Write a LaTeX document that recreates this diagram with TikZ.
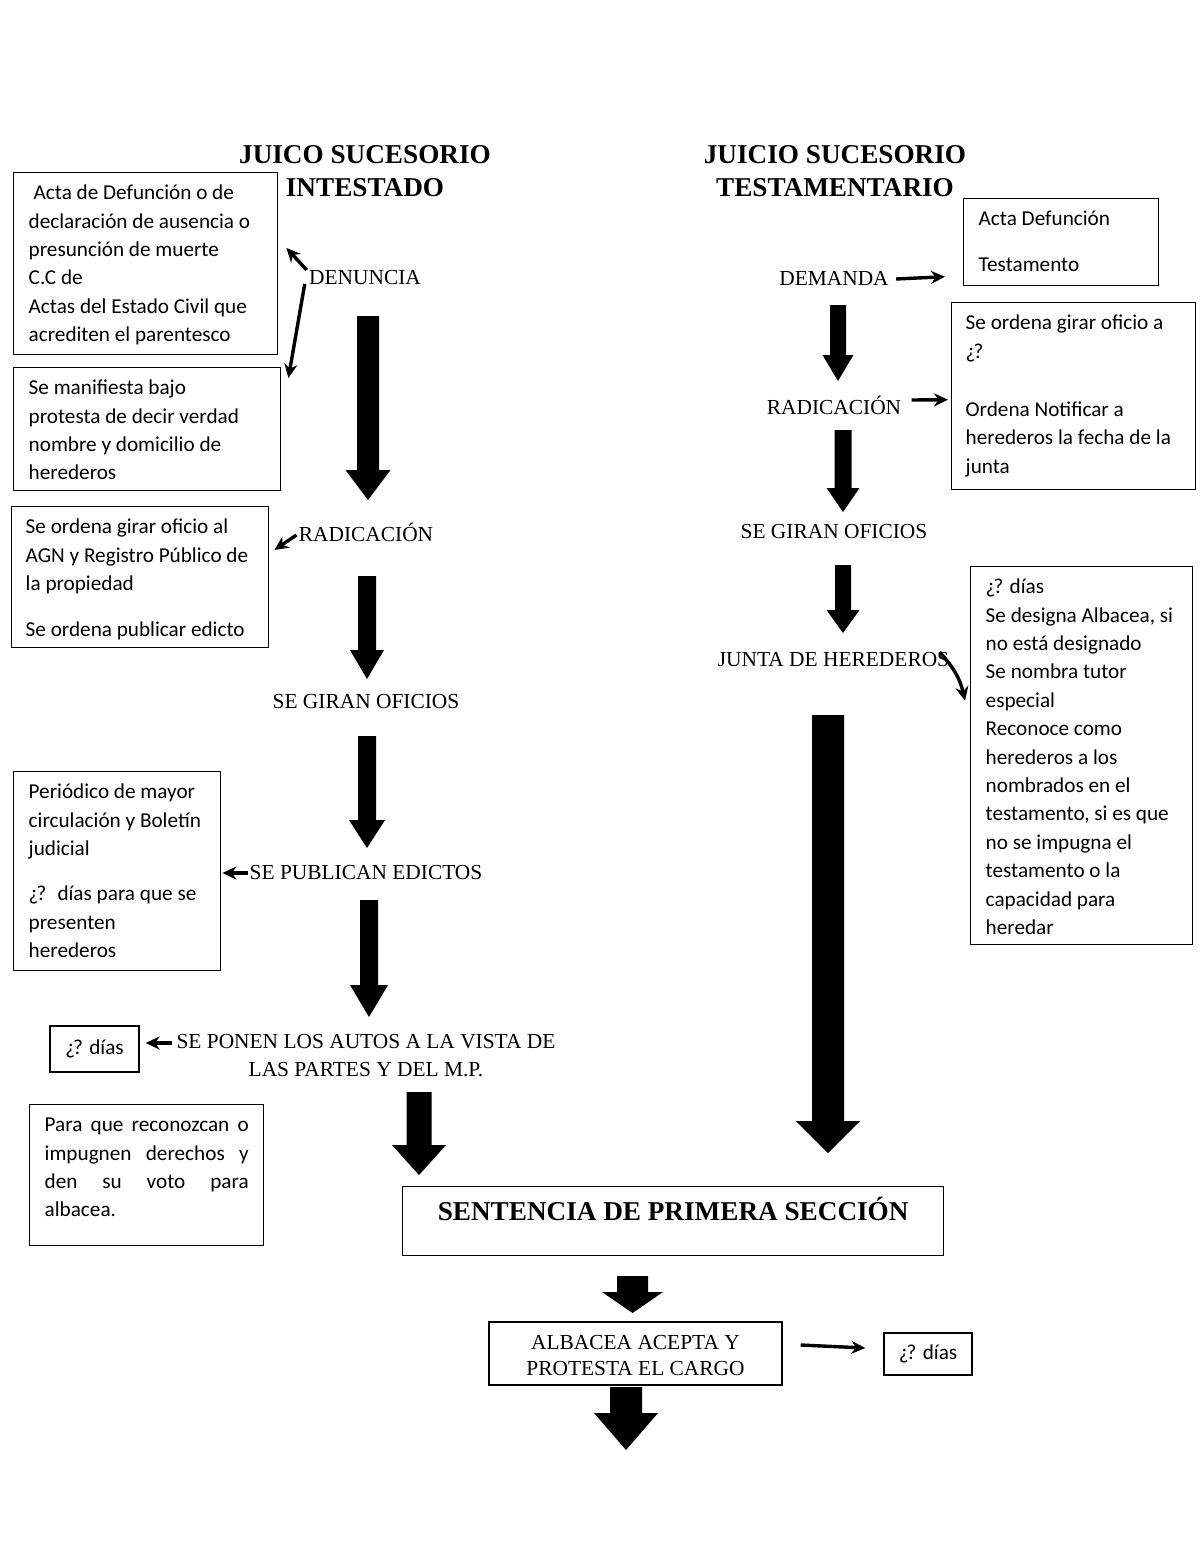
\documentclass[tikz,border=0pt]{standalone}
\usepackage{fontspec}
\setmainfont{Liberation Serif}
\newfontfamily\calfont{Carlito}
\usetikzlibrary{arrows.meta,calc}
\newcommand\lblfont{\fontsize{10.7}{14}\selectfont}
\newcommand\ttlfont{\fontsize{13.6}{16.5}\selectfont\bfseries}
\newcommand\bxfont{\calfont\fontsize{10.6}{14.2}\selectfont}
\newcommand\fs{\rule{0pt}{13.5pt}}
\newcommand\qq{¿\kern-1pt?}
\newcommand\DnArrow[6]{\fill (#1-#5,#2) -- (#1+#5,#2) -- (#1+#5,#3) -- (#1+#6,#3) -- (#1,#4) -- (#1-#6,#3) -- (#1-#5,#3) -- cycle;}
\tikzset{
  box/.style={draw, line width=0.7pt, anchor=north west, inner xsep=7.5pt, inner ysep=0pt, font=\bxfont},
  lbl/.style={inner sep=0pt, font=\lblfont},
  ttl/.style={inner sep=0pt, align=center, font=\ttlfont},
  thinarr/.style={line width=1.7pt, -{Stealth[length=7pt,width=6.5pt]}},
  smallbox/.style={draw, line width=0.7pt, inner sep=0pt, font=\bxfont}
}
\begin{document}
\begin{tikzpicture}[x=0.5pt,y=-0.5pt]
\fill[white] (0,0) rectangle (1200,1553);
\useasboundingbox (0,0) rectangle (1200,1553);

% titles
\node[ttl] (t1) at (365,171) {JUICO SUCESORIO\\INTESTADO};
\node[ttl] (t2) at (835,171) {JUICIO SUCESORIO\\TESTAMENTARIO};

% ---------- left column ----------
\node[box] (b1) at (13,172) {\parbox[t][91pt][t]{117pt}{\raggedright\fs\hspace{2.5pt}Acta de Defunción o de\\declaración de ausencia o\\presunción de muerte\\C.C de\\Actas del Estado Civil que\\acrediten el parentesco}};
\node[box] (b2) at (13,367) {\parbox[t][61.5pt][t]{118.5pt}{\raggedright\fs Se manifiesta bajo\\protesta de decir verdad\\nombre y domicilio de\\herederos}};
\node[lbl] (den) at (365,278) {DENUNCIA};
\draw[thinarr] ([shift={(-2,-8)}]den.west) -- ([shift={(8,76)}]b1.north east);
\draw[thinarr] ([shift={(-4,6)}]den.west) -- ([shift={(7,11)}]b2.north east);
\DnArrow{368}{316}{470}{500}{11}{22.5}

\node[lbl] (rad1) at (366,532) {RADICACIÓN};
\node[box, inner xsep=7pt] (b3) at (11,506) {\parbox[t][70.5pt][t]{114.5pt}{\raggedright\fs Se ordena girar oficio al\\AGN y Registro Público de\\la propiedad\\[9pt]Se ordena publicar edicto}};
\draw[thinarr] ([shift={(-2,3)}]rad1.west) -- ([shift={(5,44)}]b3.north east);
\DnArrow{367}{576}{650}{679}{9}{17}

\node[lbl] (gir1) at (366,702) {SE GIRAN OFICIOS};
\DnArrow{367}{736}{820}{848}{9}{18}

\node[lbl] (pub) at (366,873) {SE PUBLICAN EDICTOS};
\node[box] (b4) at (13,771) {\parbox[t][99.5pt][t]{88.5pt}{\raggedright\fs Periódico de mayor\\circulación y Boletín\\judicial\\[8.5pt]\qq~ días para que se\\presenten\\herederos}};
\draw[thinarr] ([shift={(-1,0)}]pub.west) -- ([shift={(1,0)}]pub.west -| b4.east);
\DnArrow{369}{900}{985}{1017}{9}{19}

\node[lbl, align=center] (autos) at (366,1056) {SE PONEN LOS AUTOS A LA VISTA DE\\LAS PARTES Y DEL M.P.};
\node[smallbox, minimum width=44.5pt, minimum height=23pt] (d1) at (94.5,1049) {\qq{} días};
\draw[thinarr] ([shift={(-4,-13)}]autos.west) -- ([shift={(6,-6)}]d1.east);
\node[box] (b6) at (29,1104) {\parbox[t][70.5pt][t]{102pt}{\fs\makebox[102pt][s]{Para que reconozcan o}\\\makebox[102pt][s]{impugnen derechos y}\\\makebox[102pt][s]{den su voto para}\\albacea.}};
\DnArrow{419}{1092}{1145}{1175}{12.5}{27}

% ---------- right column ----------
\node[lbl] (dem) at (834,278) {DEMANDA};
\node[box] (r1) at (963,198) {\parbox[t][43.5pt][t]{82.5pt}{\raggedright\fs Acta Defunción\\[8.5pt]Testamento}};
\draw[thinarr] ([shift={(7,1)}]dem.east) -- ([shift={(-18,34.5)}]r1.west);
\DnArrow{838}{305}{355}{381}{8}{15.5}

\node[lbl] (rad2) at (834,405) {RADICACIÓN};
\node[box, inner xsep=7pt] (r2) at (951,302) {\parbox[t][93.5pt][t]{108pt}{\raggedright\fs Se ordena girar oficio a\\\qq\\[15pt]Ordena Notificar a\\herederos la fecha de la\\junta}};
\draw[thinarr] ([shift={(10,-5)}]rad2.east) -- ([shift={(-3,3.5)}]r2.west);
\DnArrow{843}{430}{488}{512}{8.5}{16.5}

\node[lbl] (gir2) at (834,532) {SE GIRAN OFICIOS};
\DnArrow{843}{565}{610}{633}{8}{16.5}

\node[lbl] (junta) at (833.5,660) {JUNTA DE HEREDEROS};
\node[box] (r3) at (970,566) {\parbox[t][189pt][t]{96pt}{\raggedright\fs \qq{} días\\Se designa Albacea, si\\no está designado\\Se nombra tutor\\especial\\Reconoce como\\herederos a los\\nombrados en el\\testamento, si es que\\no se impugna el\\testamento o la\\capacidad para\\heredar}};
\draw[thinarr] ([shift={(-10,-8)}]junta.east) to[bend left=15] ([shift={(-5,-55)}]r3.west);
\DnArrow{828}{715}{1121}{1153}{16}{32}

% ---------- bottom ----------
\node[draw, line width=0.7pt, anchor=north west, inner sep=0pt] (sent) at (402,1186) {\parbox[t][34.5pt][t]{270.5pt}{\centering\rule{0pt}{17pt}\ttlfont SENTENCIA DE PRIMERA SECCIÓN}};
\DnArrow{632.5}{1276}{1292}{1313}{15.5}{30.5}
\node[draw, line width=0.7pt, minimum width=146.5pt, minimum height=31.5pt, inner sep=0pt, align=center, font=\fontsize{10.7}{13}\selectfont] (alb) at (635.5,1353.5) {\rule{0pt}{9pt}ALBACEA ACEPTA Y\\PROTESTA EL CARGO};
\node[smallbox, minimum width=44pt, minimum height=21pt] (d2) at (928,1354) {\qq{} días};
\draw[thinarr] ([shift={(18,-8.5)}]alb.east) -- ([shift={(-18,-6)}]d2.west);
\DnArrow{626}{1387}{1413}{1450}{16}{32}
\end{tikzpicture}
\end{document}
